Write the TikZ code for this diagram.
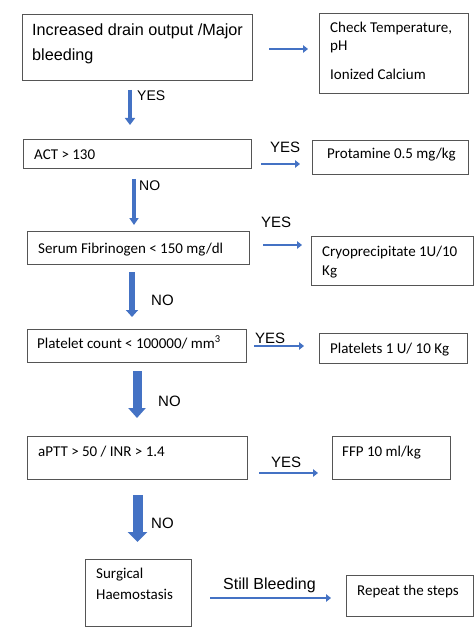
\documentclass[tikz,border=0pt]{standalone}
\usepackage{fontspec}
\setmainfont{Carlito}
\newfontfamily\arialf{Liberation Sans}
\usetikzlibrary{arrows.meta}
\definecolor{arrowblue}{RGB}{68,114,196}
\definecolor{boxgray}{RGB}{85,85,85}
\begin{document}
\begin{tikzpicture}[x=1pt,y=-1pt,
  box/.style={draw=boxgray, line width=0.8pt, inner sep=0pt, anchor=north west},
  txt/.style={inner sep=0pt, anchor=base west, font=\fontsize{15}{18}\selectfont},
  bigtxt/.style={inner sep=0pt, anchor=base west, font=\arialf\fontsize{16.2}{19}\selectfont},
  lab/.style={inner sep=0pt, anchor=base west, font=\arialf\fontsize{15}{18}\selectfont},
  smalllab/.style={inner sep=0pt, anchor=base west, font=\arialf\fontsize{14}{17}\selectfont},
  harrow/.style={draw=arrowblue, line width=2.6pt, -{Triangle[length=5pt,width=7.5pt]}},
  varrow/.style args={#1/#2/#3}{draw=arrowblue, line width=#1, -{Triangle[length=#2,width=#3]}}
]
\useasboundingbox (0,0) rectangle (474,644);
\fill[white] (0,0) rectangle (474,644);

% boxes
\node[box, minimum width=230pt, minimum height=66pt] (b1) at (22,14) {};
\node[box, minimum width=149pt, minimum height=80pt] (b2) at (319,13) {};
\node[box, minimum width=228pt, minimum height=29pt] (act) at (23,139) {};
\node[box, minimum width=156pt, minimum height=34pt] (prot) at (312,140) {};
\node[box, minimum width=222pt, minimum height=33pt] (fib) at (27,231) {};
\node[box, minimum width=162pt, minimum height=49pt] (cryo) at (311,236) {};
\node[box, minimum width=219pt, minimum height=33pt] (plt) at (27,329) {};
\node[box, minimum width=148pt, minimum height=30pt] (plts) at (319,333) {};
\node[box, minimum width=220pt, minimum height=43pt] (aptt) at (27,436) {};
\node[box, minimum width=118pt, minimum height=43pt] (ffp) at (332,436) {};
\node[box, minimum width=106pt, minimum height=67pt] (surg) at (85,559) {};
\node[box, minimum width=127pt, minimum height=41pt] (rep) at (346,575) {};

% box texts
\node[bigtxt] (t1a) at (32,36) {Increased drain output /Major};
\node[bigtxt] (t1b) at (32,61) {bleeding};
\node[txt] (t2a) at (330,33) {Check Temperature,};
\node[txt] (t2b) at (330,51) {pH};
\node[txt] (t2c) at (330,80) {Ionized Calcium};
\node[txt] (tact) at (34,160) {ACT {>} 130};
\node[txt] (tprot) at (327,159) {Protamine 0.5 mg/kg};
\node[txt] (tfib) at (38,253) {Serum Fibrinogen {<} 150 mg/dl};
\node[txt] (tcryoa) at (322,256) {Cryoprecipitate 1U/10};
\node[txt] (tcryob) at (322,275) {Kg};
\node[txt] (tplt) at (37,348) {Platelet count {<} 100000/ mm\textsuperscript{3}};
\node[txt] (tplts) at (330,353) {Platelets 1 U/ 10 Kg};
\node[txt] (taptt) at (38,456) {aPTT {>} 50 / INR {>} 1.4};
\node[txt] (tffp) at (342,456) {FFP 10 ml/kg};
\node[txt] (tsurga) at (96,578) {Surgical};
\node[txt] (tsurgb) at (96,599) {Haemostasis};
\node[txt] (trep) at (357,595) {Repeat the steps};

% labels
\node[smalllab] (lyes1) at (137,101) {YES};
\node[lab] (lyes2) at (270,153) {YES};
\node[smalllab] (lno1) at (139,190) {NO};
\node[lab] (lyes3) at (261,227) {YES};
\node[lab] (lno2) at (151,305) {NO};
\node[lab] (lyes4) at (255,343) {YES};
\node[lab] (lno3) at (158,406) {NO};
\node[lab] (lyes5) at (271,467) {YES};
\node[lab] (lno4) at (151,528) {NO};
\node[inner sep=0pt, anchor=base west, font=\arialf\fontsize{16}{19}\selectfont] (lstill) at (223,589) {Still Bleeding};

% horizontal arrows
\coordinate (h1s) at (269,49);  \coordinate (h1e) at (308,49);
\coordinate (h2s) at (261,164); \coordinate (h2e) at (300,164);
\coordinate (h3s) at (263,245); \coordinate (h3e) at (302,245);
\coordinate (h4s) at (254,346); \coordinate (h4e) at (304,346);
\coordinate (h5s) at (259,473); \coordinate (h5e) at (318,473);
\coordinate (h6s) at (210,598); \coordinate (h6e) at (331,598);
\draw[harrow] (h1s) -- (h1e);
\draw[harrow] (h2s) -- (h2e);
\draw[harrow] (h3s) -- (h3e);
\draw[harrow] (h4s) -- (h4e);
\draw[harrow] (h5s) -- (h5e);
\draw[harrow] (h6s) -- (h6e);

% vertical arrows
\coordinate (v1s) at (130,90);    \coordinate (v1e) at (130,125);
\coordinate (v2s) at (134,179);   \coordinate (v2e) at (134,225);
\coordinate (v3s) at (132,272);   \coordinate (v3e) at (132,317);
\coordinate (v4s) at (137,371);   \coordinate (v4e) at (137,418);
\coordinate (v5s) at (137.5,495); \coordinate (v5e) at (137.5,542);
\draw[varrow=4pt/7pt/10pt] (v1s) -- (v1e);
\draw[varrow=4pt/7pt/9pt] (v2s) -- (v2e);
\draw[varrow=6pt/7pt/12pt] (v3s) -- (v3e);
\draw[varrow=9pt/10pt/17pt] (v4s) -- (v4e);
\draw[varrow=10pt/10pt/19pt] (v5s) -- (v5e);
\end{tikzpicture}
\end{document}
